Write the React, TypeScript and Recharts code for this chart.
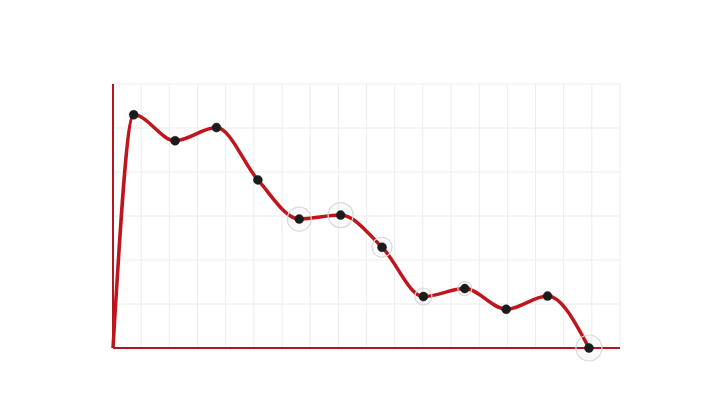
import React from "react";
import { LineChart, Line, XAxis, YAxis, CartesianGrid, ReferenceLine } from "recharts";

const xValues = [0, 0.5, 1.5, 2.5, 3.5, 4.5, 5.5, 6.5, 7.5, 8.5, 9.5, 10.5, 11.5];
const yValues = [0, 5.3, 4.71, 5.01, 3.82, 2.93, 3.02, 2.29, 1.17, 1.35, 0.88, 1.18, 0];
const xTicks = Array.from({ length: 19 }, (_, i) => (i * 12.25) / 18);
const yTicks = [0, 1, 2, 3, 4, 5, 6];

const data = xValues.map((x, i) => ({ x, y: yValues[i] }));

const HALOS: Record<number, number> = { 5: 12, 6: 12.5, 7: 10, 8: 8.5, 9: 7, 12: 13 };

const Dot = (props: any) => {
  const { cx, cy, index } = props;
  if (index === 0 || cx == null || cy == null) return <g key={`d${index}`} />;
  const halo = HALOS[index];
  return (
    <g key={`d${index}`}>
      {halo ? (
        <circle cx={cx} cy={cy} r={halo} fill="rgba(0,0,0,0.02)" stroke="#d9d9d9" strokeWidth={1.2} />
      ) : null}
      <circle cx={cx} cy={cy} r={4.5} fill="#1b1b1b" stroke="#222" strokeWidth={0.5} />
    </g>
  );
};

const NoTick = () => <g />;

export default function App() {
  return (
    <div style={{ position: "absolute", left: 0, top: 0, width: 711, height: 400, background: "#fff" }}>
      <LineChart width={711} height={400} data={data} margin={{ top: 84, left: 113, right: 91, bottom: 52 }}>
        <CartesianGrid stroke="#ececec" strokeWidth={1} />
        <XAxis
          dataKey="x"
          type="number"
          domain={[0, 12.25]}
          ticks={xTicks}
          interval={0}
          tick={<NoTick />}
          tickLine={false}
          axisLine={false}
          height={0}
        />
        <YAxis
          type="number"
          domain={[0, 6]}
          ticks={yTicks}
          interval={0}
          tick={<NoTick />}
          tickLine={false}
          axisLine={false}
          width={0}
        />
        <ReferenceLine y={0} stroke="#b3161c" strokeWidth={2} />
        <ReferenceLine x={0} stroke="#b3161c" strokeWidth={2} segment={[{ x: 0, y: 0 }, { x: 0, y: 6.1 }]} ifOverflow="visible" />
        <Line
          type="monotone"
          dataKey="y"
          stroke="#c0151c"
          strokeWidth={3.5}
          dot={<Dot />}
          activeDot={false}
          isAnimationActive={false}
        />
      </LineChart>
    </div>
  );
}
